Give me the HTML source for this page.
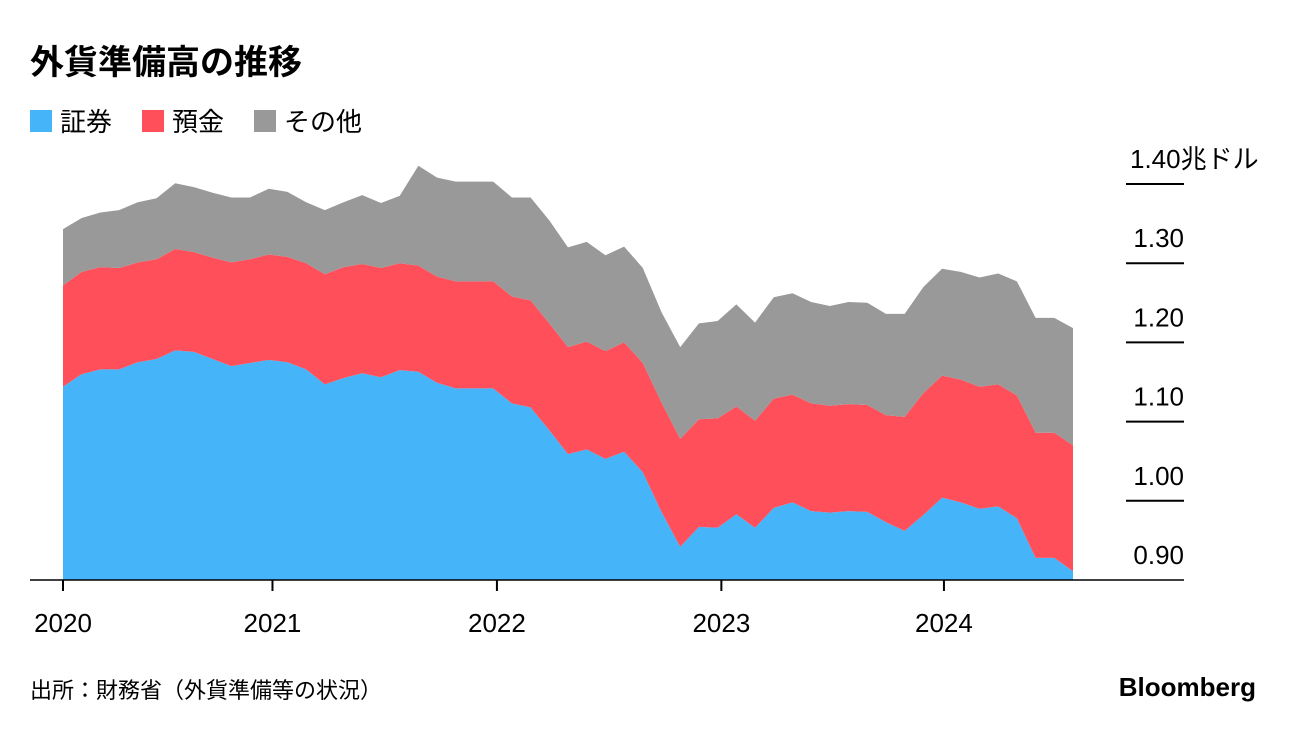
<!DOCTYPE html>
<html><head><meta charset="utf-8"><style>
body{margin:0;background:#fff;font-family:"Liberation Sans","Noto Sans CJK JP",sans-serif;}
svg text{font-family:"Liberation Sans","Noto Sans CJK JP",sans-serif;}
</style></head><body>
<svg id="c" width="1296" height="730" viewBox="0 0 1296 730">
<text x="30" y="74" font-size="34" font-weight="bold" fill="#000">外貨準備高の推移</text>
<g>
<rect x="30" y="110" width="22" height="22" fill="#45b4f8"/>
<text x="60" y="131" font-size="26">証券</text>
<rect x="142" y="110" width="22" height="22" fill="#ff4f5a"/>
<text x="172" y="131" font-size="26">預金</text>
<rect x="254" y="110" width="22" height="22" fill="#999999"/>
<text x="284" y="131" font-size="26">その他</text>
</g>
<g id="areas"></g>
<g id="yaxis"></g>
<g id="xaxis"></g>
<text x="30" y="698" font-size="22">出所：財務省（外貨準備等の状況）</text>
<text x="1256" y="696" font-size="26" font-weight="bold" text-anchor="end">Bloomberg</text>
</svg>
<script>
const securities=[1.144,1.160,1.166,1.166,1.175,1.179,1.190,1.188,1.179,1.170,1.174,1.178,1.175,1.166,1.147,1.155,1.161,1.156,1.165,1.163,1.149,1.142,1.142,1.142,1.123,1.118,1.089,
1.059,1.065,1.053,1.062,1.036,0.986,0.942,0.967,0.966,0.983,0.966,0.991,0.998,0.987,0.985,0.987,0.986,0.973,0.962,0.982,1.004,0.998,0.990,0.993,0.978,0.928,0.928,0.911];
const deposits=[0.128,0.129,0.129,0.128,0.126,0.126,0.128,0.126,0.128,0.131,0.131,0.133,0.133,0.134,0.139,0.140,0.138,0.138,0.135,0.134,0.134,0.135,0.135,0.135,0.135,0.135,0.135,
0.135,0.136,0.136,0.138,0.138,0.138,0.136,0.136,0.138,0.136,0.135,0.138,0.136,0.136,0.135,0.135,0.135,0.135,0.144,0.154,0.154,0.155,0.154,0.154,0.155,0.158,0.158,0.159];
const other=[0.071,0.068,0.069,0.073,0.076,0.077,0.083,0.082,0.082,0.082,0.078,0.083,0.082,0.077,0.081,0.082,0.087,0.082,0.085,0.126,0.125,0.126,0.126,0.126,0.125,0.130,0.130,
0.126,0.126,0.121,0.121,0.120,0.114,0.116,0.121,0.123,0.129,0.124,0.128,0.128,0.128,0.126,0.129,0.129,0.128,0.130,0.134,0.135,0.136,0.138,0.140,0.144,0.145,0.145,0.148];
const yTicks=[0.90,1.00,1.10,1.20,1.30,1.40];
const yTickLabels=["0.90","1.00","1.10","1.20","1.30","1.40兆ドル"];
const xTickIdx=[0,11.2,23.2,35.2,47.1];
const xTickLabels=["2020","2021","2022","2023","2024"];
const NS="http://www.w3.org/2000/svg";
const x0=63,x1=1073,n=securities.length;
const X=i=>x0+(x1-x0)*i/(n-1);
const Y=v=>580-(v-0.9)*792;
function el(t,a,p){const e=document.createElementNS(NS,t);for(const k in a)e.setAttribute(k,a[k]);p.appendChild(e);return e;}
const areas=document.getElementById('areas');
const series=[securities,deposits,other],colors=["#45b4f8","#ff4f5a","#999999"],names=["area-securities","area-deposits","area-other"];
let base=securities.map(()=>0.9);
series.forEach((s,k)=>{
  const top=s.map((v,i)=>(k===0?v:base[i]+v));
  let d="M"+X(0)+","+Y(top[0]);
  for(let i=1;i<n;i++)d+="L"+X(i)+","+Y(top[i]);
  for(let i=n-1;i>=0;i--)d+="L"+X(i)+","+Y(base[i]);
  d+="Z";
  const p=el('path',{d:d,fill:colors[k]},areas);
  
  
  base=top;
});
const ya=document.getElementById('yaxis');
yTicks.forEach((v,i)=>{
  if(i>0){const l=el('line',{x1:1126,x2:1184,y1:Y(v),y2:Y(v),stroke:"#000","stroke-width":2},ya);
  
  }
  const last=i===yTicks.length-1;
  const t=el('text',{x:last?1130:1184,y:Y(v)-16,"font-size":26,"text-anchor":last?"start":"end"},ya);
  t.textContent=yTickLabels[i];
  
  
});
const xa=document.getElementById('xaxis');
const ax=el('line',{x1:30,x2:1184,y1:580,y2:580,stroke:"#000","stroke-width":1.5},xa);


xTickIdx.forEach((ix,i)=>{
  const xx=X(ix);
  const l=el('line',{x1:xx,x2:xx,y1:580,y2:591,stroke:"#000","stroke-width":2},xa);
  
  
  const t=el('text',{x:xx,y:632,"font-size":26,"text-anchor":"middle"},xa);
  t.textContent=xTickLabels[i];
  
  
});
</script>
</body></html>
